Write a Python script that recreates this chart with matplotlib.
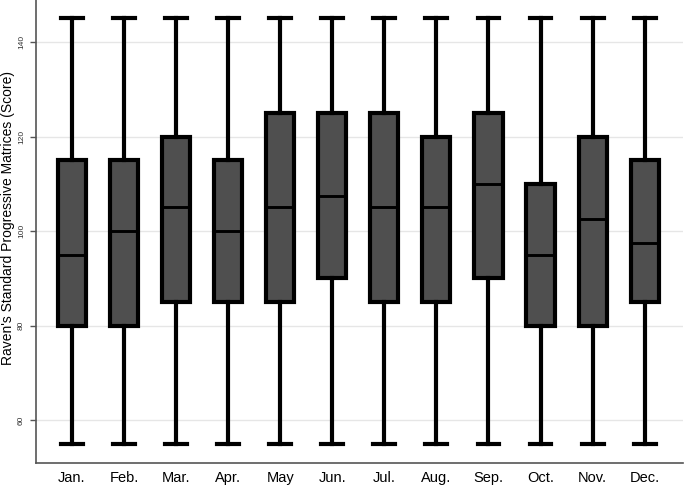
import matplotlib
matplotlib.use("Agg")
import matplotlib.pyplot as plt

plt.rcParams['font.family'] = ['Liberation Sans', 'DejaVu Sans']

months = ['Jan.', 'Feb.', 'Mar.', 'Apr.', 'May', 'Jun.', 'Jul.', 'Aug.', 'Sep.', 'Oct.', 'Nov.', 'Dec.']
q1 = [80, 80, 85, 85, 85, 90, 85, 85, 90, 80, 80, 85]
med = [95, 100, 105, 100, 105, 107.5, 105, 105, 110, 95, 102.5, 97.5]
q3 = [115, 115, 120, 115, 125, 125, 125, 120, 125, 110, 120, 115]
lo = [55] * 12
hi = [145] * 12

stats = []
for i, m in enumerate(months):
    stats.append({'label': m, 'q1': q1[i], 'med': med[i], 'q3': q3[i],
                  'whislo': lo[i], 'whishi': hi[i], 'fliers': []})

fig = plt.figure(figsize=(6.85, 4.88), dpi=100)
ax = fig.add_axes([0.0526, 0.0512, 0.944, 0.9488])

lw = 3.0
ax.bxp(stats, positions=range(1, 13), widths=0.54, patch_artist=True,
       showfliers=False, capwidths=0.42,
       boxprops=dict(facecolor='#4f4f4f', edgecolor='black', linewidth=lw),
       whiskerprops=dict(color='black', linewidth=lw),
       capprops=dict(color='black', linewidth=lw),
       medianprops=dict(color='black', linewidth=lw * 0.7))

ax.set_xlim(0.31, 12.73)
ax.set_ylim(50.9, 148.9)
ax.set_yticks([60, 80, 100, 120, 140])
ax.set_yticklabels(['60', '80', '100', '120', '140'], rotation=90, va='center', fontsize=6, color='#333333')
ax.tick_params(axis='x', length=0, labelsize=10.5, pad=6)
ax.tick_params(axis='y', length=4, width=1, color='#555555', pad=4)
ax.yaxis.grid(True, color='#e6e6e6', linewidth=1)
ax.set_axisbelow(True)
for s in ['top', 'right']:
    ax.spines[s].set_visible(False)
for s in ['left', 'bottom']:
    ax.spines[s].set_color('#555555')
    ax.spines[s].set_linewidth(1.2)
fig.text(8 / 685, 1 - 218 / 488, "Raven's Standard Progressive Matrices (Score)",
         rotation=90, ha='center', va='center', fontsize=10)

fig.savefig('out.png', dpi=100)
